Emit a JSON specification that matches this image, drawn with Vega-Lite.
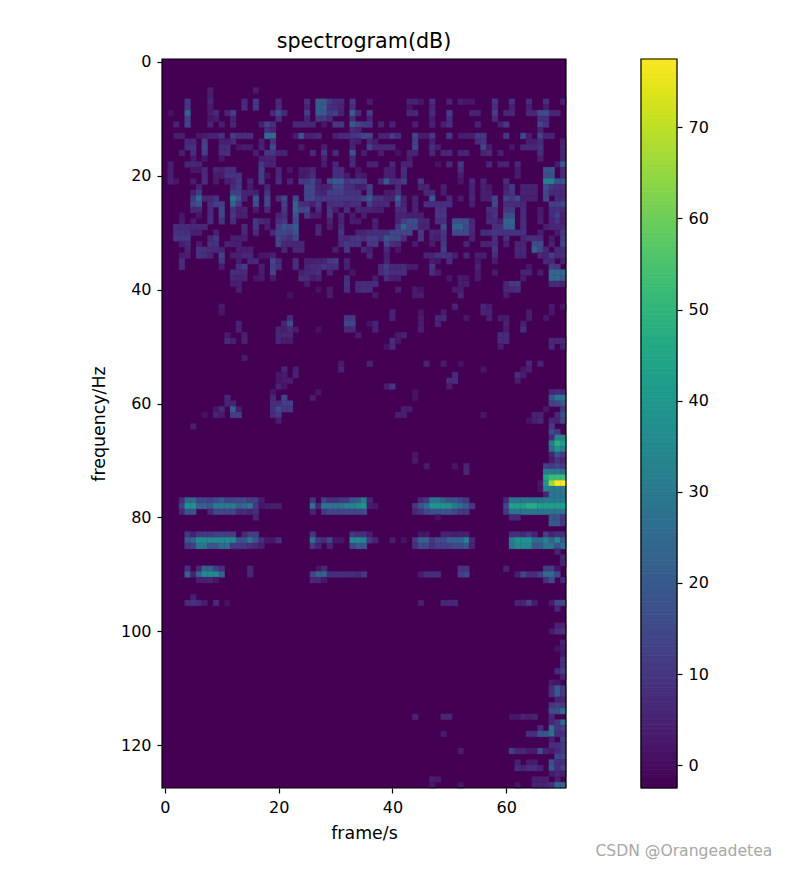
{
  "$schema": "https://vega.github.io/schema/vega-lite/v6.json",
  "description": "Spectrogram heatmap with a colorbar",
  "padding": {"left": 90, "top": 31, "right": 0, "bottom": 0},
  "background": "white",
  "title": {"text": "CSDN @Orangeadetea", "orient": "bottom", "anchor": "end", "offset": 3, "dx": 64, "fontSize": 15.6, "fontWeight": "normal", "font": "DejaVu Sans", "color": "#a8a8a8"},
  "config": {
    "font": "DejaVu Sans",
    "view": {"stroke": null},
    "axis": {"grid": false, "labelFont": "DejaVu Sans", "labelFontSize": 16, "labelPadding": 6, "labelColor": "black", "titleFont": "DejaVu Sans", "titleFontSize": 17.4, "titleFontWeight": "normal", "titleColor": "black", "tickColor": "black", "tickSize": 5, "tickWidth": 1.2, "domain": false}
  },
  "spacing": 73,
  "hconcat": [
    {
      "title": {"text": "spectrogram(dB)", "fontSize": 20.7, "fontWeight": "normal", "font": "DejaVu Sans", "color": "black", "offset": 1},
      "width": 404,
      "height": 729,
      "view": {"fill": "#440154", "stroke": null},
      "layer": [
        {
      "data": {"values": [
{"t":8,"f":5,"v":4},{"t":16,"f":5,"v":3},{"t":8,"f":6,"v":3},
{"t":4,"f":7,"v":10},{"t":8,"f":7,"v":5},{"t":14,"f":7,"v":7},{"t":16,"f":7,"v":10},{"t":20,"f":7,"v":7},{"t":25,"f":7,"v":8},{"t":27,"f":7,"v":20},{"t":28,"f":7,"v":20},{"t":29,"f":7,"v":10},{"t":30,"f":7,"v":7},{"t":31,"f":7,"v":7},{"t":33,"f":7,"v":10},{"t":36,"f":7,"v":3},{"t":43,"f":7,"v":5},{"t":44,"f":7,"v":5},{"t":45,"f":7,"v":2},{"t":47,"f":7,"v":8},{"t":50,"f":7,"v":5},{"t":52,"f":7,"v":4},{"t":53,"f":7,"v":2},{"t":54,"f":7,"v":2},{"t":58,"f":7,"v":10},{"t":61,"f":7,"v":8},{"t":64,"f":7,"v":7},{"t":67,"f":7,"v":8},{"t":70,"f":7,"v":4},
{"t":4,"f":8,"v":10},{"t":8,"f":8,"v":3},{"t":14,"f":8,"v":8},{"t":16,"f":8,"v":10},{"t":20,"f":8,"v":7},{"t":25,"f":8,"v":5},{"t":27,"f":8,"v":20},{"t":28,"f":8,"v":20},{"t":29,"f":8,"v":8},{"t":30,"f":8,"v":7},{"t":31,"f":8,"v":5},{"t":33,"f":8,"v":8},{"t":43,"f":8,"v":2},{"t":47,"f":8,"v":5},{"t":58,"f":8,"v":8},{"t":61,"f":8,"v":4},{"t":64,"f":8,"v":4},{"t":67,"f":8,"v":3},
{"t":1,"f":9,"v":1},{"t":4,"f":9,"v":22},{"t":8,"f":9,"v":3},{"t":9,"f":9,"v":7},{"t":11,"f":9,"v":5},{"t":12,"f":9,"v":12},{"t":19,"f":9,"v":6},{"t":20,"f":9,"v":15},{"t":21,"f":9,"v":7},{"t":25,"f":9,"v":12},{"t":27,"f":9,"v":20},{"t":28,"f":9,"v":20},{"t":29,"f":9,"v":10},{"t":30,"f":9,"v":12},{"t":31,"f":9,"v":5},{"t":33,"f":9,"v":22},{"t":34,"f":9,"v":7},{"t":36,"f":9,"v":12},{"t":43,"f":9,"v":6},{"t":44,"f":9,"v":6},{"t":47,"f":9,"v":8},{"t":50,"f":9,"v":12},{"t":54,"f":9,"v":5},{"t":55,"f":9,"v":5},{"t":58,"f":9,"v":12},{"t":60,"f":9,"v":6},{"t":61,"f":9,"v":6},{"t":64,"f":9,"v":6},{"t":65,"f":9,"v":6},{"t":66,"f":9,"v":16},{"t":67,"f":9,"v":16},{"t":68,"f":9,"v":6},{"t":69,"f":9,"v":6},
{"t":4,"f":10,"v":12},{"t":8,"f":10,"v":2},{"t":9,"f":10,"v":3},{"t":12,"f":10,"v":5},{"t":20,"f":10,"v":8},{"t":25,"f":10,"v":5},{"t":27,"f":10,"v":10},{"t":28,"f":10,"v":10},{"t":29,"f":10,"v":6},{"t":33,"f":10,"v":8},{"t":36,"f":10,"v":5},{"t":47,"f":10,"v":3},{"t":50,"f":10,"v":8},{"t":58,"f":10,"v":7},{"t":66,"f":10,"v":8},{"t":67,"f":10,"v":8},
{"t":2,"f":11,"v":5},{"t":4,"f":11,"v":13},{"t":8,"f":11,"v":5},{"t":10,"f":11,"v":4},{"t":12,"f":11,"v":6},{"t":17,"f":11,"v":4},{"t":18,"f":11,"v":13},{"t":19,"f":11,"v":8},{"t":23,"f":11,"v":6},{"t":24,"f":11,"v":6},{"t":25,"f":11,"v":6},{"t":26,"f":11,"v":6},{"t":28,"f":11,"v":2},{"t":30,"f":11,"v":10},{"t":31,"f":11,"v":10},{"t":33,"f":11,"v":20},{"t":34,"f":11,"v":14},{"t":35,"f":11,"v":10},{"t":36,"f":11,"v":10},{"t":38,"f":11,"v":5},{"t":40,"f":11,"v":5},{"t":44,"f":11,"v":4},{"t":47,"f":11,"v":5},{"t":49,"f":11,"v":4},{"t":50,"f":11,"v":8},{"t":55,"f":11,"v":5},{"t":59,"f":11,"v":4},{"t":60,"f":11,"v":10},{"t":66,"f":11,"v":14},{"t":67,"f":11,"v":9},
{"t":18,"f":12,"v":8},{"t":19,"f":12,"v":5},{"t":33,"f":12,"v":7},{"t":34,"f":12,"v":5},{"t":66,"f":12,"v":5},
{"t":2,"f":13,"v":4},{"t":3,"f":13,"v":4},{"t":6,"f":13,"v":2},{"t":7,"f":13,"v":3},{"t":8,"f":13,"v":5},{"t":9,"f":13,"v":5},{"t":10,"f":13,"v":9},{"t":12,"f":13,"v":12},{"t":13,"f":13,"v":8},{"t":14,"f":13,"v":8},{"t":15,"f":13,"v":8},{"t":18,"f":13,"v":25},{"t":19,"f":13,"v":25},{"t":23,"f":13,"v":3},{"t":24,"f":13,"v":18},{"t":25,"f":13,"v":4},{"t":26,"f":13,"v":5},{"t":27,"f":13,"v":7},{"t":30,"f":13,"v":4},{"t":31,"f":13,"v":7},{"t":32,"f":13,"v":7},{"t":33,"f":13,"v":9},{"t":34,"f":13,"v":10},{"t":35,"f":13,"v":14},{"t":36,"f":13,"v":14},{"t":38,"f":13,"v":5},{"t":39,"f":13,"v":5},{"t":40,"f":13,"v":12},{"t":41,"f":13,"v":7},{"t":44,"f":13,"v":14},{"t":45,"f":13,"v":3},{"t":46,"f":13,"v":3},{"t":47,"f":13,"v":10},{"t":50,"f":13,"v":10},{"t":52,"f":13,"v":3},{"t":53,"f":13,"v":4},{"t":54,"f":13,"v":4},{"t":55,"f":13,"v":10},{"t":56,"f":13,"v":10},{"t":60,"f":13,"v":10},{"t":63,"f":13,"v":15},{"t":64,"f":13,"v":3},{"t":66,"f":13,"v":14},{"t":67,"f":13,"v":5},{"t":68,"f":13,"v":5},
{"t":4,"f":14,"v":6},{"t":5,"f":14,"v":6},{"t":7,"f":14,"v":12},{"t":10,"f":14,"v":4},{"t":11,"f":14,"v":4},{"t":12,"f":14,"v":6},{"t":17,"f":14,"v":4},{"t":19,"f":14,"v":9},{"t":33,"f":14,"v":5},{"t":34,"f":14,"v":3},{"t":36,"f":14,"v":6},{"t":37,"f":14,"v":3},{"t":44,"f":14,"v":12},{"t":47,"f":14,"v":4},{"t":55,"f":14,"v":7},{"t":56,"f":14,"v":9},{"t":64,"f":14,"v":4},{"t":65,"f":14,"v":4},{"t":66,"f":14,"v":7},{"t":70,"f":14,"v":4},
{"t":4,"f":15,"v":8},{"t":5,"f":15,"v":9},{"t":7,"f":15,"v":14},{"t":10,"f":15,"v":7},{"t":11,"f":15,"v":7},{"t":13,"f":15,"v":2},{"t":14,"f":15,"v":3},{"t":15,"f":15,"v":3},{"t":17,"f":15,"v":5},{"t":19,"f":15,"v":15},{"t":24,"f":15,"v":3},{"t":28,"f":15,"v":4},{"t":33,"f":15,"v":5},{"t":36,"f":15,"v":13},{"t":37,"f":15,"v":6},{"t":38,"f":15,"v":6},{"t":39,"f":15,"v":6},{"t":40,"f":15,"v":6},{"t":44,"f":15,"v":14},{"t":47,"f":15,"v":8},{"t":48,"f":15,"v":3},{"t":56,"f":15,"v":14},{"t":57,"f":15,"v":3},{"t":61,"f":15,"v":2},{"t":63,"f":15,"v":6},{"t":64,"f":15,"v":6},{"t":65,"f":15,"v":6},{"t":66,"f":15,"v":9},{"t":70,"f":15,"v":5},
{"t":3,"f":16,"v":4},{"t":5,"f":16,"v":8},{"t":7,"f":16,"v":12},{"t":10,"f":16,"v":8},{"t":11,"f":16,"v":8},{"t":16,"f":16,"v":4},{"t":18,"f":16,"v":10},{"t":19,"f":16,"v":10},{"t":20,"f":16,"v":5},{"t":21,"f":16,"v":5},{"t":26,"f":16,"v":7},{"t":28,"f":16,"v":10},{"t":30,"f":16,"v":7},{"t":33,"f":16,"v":18},{"t":35,"f":16,"v":3},{"t":38,"f":16,"v":3},{"t":41,"f":16,"v":1},{"t":43,"f":16,"v":5},{"t":44,"f":16,"v":5},{"t":47,"f":16,"v":6},{"t":49,"f":16,"v":6},{"t":50,"f":16,"v":6},{"t":52,"f":16,"v":5},{"t":53,"f":16,"v":5},{"t":56,"f":16,"v":5},{"t":57,"f":16,"v":7},{"t":59,"f":16,"v":4},{"t":66,"f":16,"v":8},{"t":70,"f":16,"v":5},
{"t":5,"f":17,"v":3},{"t":7,"f":17,"v":2},{"t":10,"f":17,"v":2},{"t":17,"f":17,"v":4},{"t":18,"f":17,"v":5},{"t":19,"f":17,"v":5},{"t":28,"f":17,"v":5},{"t":33,"f":17,"v":6},{"t":43,"f":17,"v":3},{"t":66,"f":17,"v":4},{"t":70,"f":17,"v":5},
{"t":1,"f":18,"v":4},{"t":4,"f":18,"v":6},{"t":5,"f":18,"v":6},{"t":6,"f":18,"v":5},{"t":17,"f":18,"v":10},{"t":18,"f":18,"v":5},{"t":19,"f":18,"v":5},{"t":28,"f":18,"v":3},{"t":30,"f":18,"v":6},{"t":33,"f":18,"v":7},{"t":36,"f":18,"v":5},{"t":37,"f":18,"v":5},{"t":40,"f":18,"v":6},{"t":42,"f":18,"v":5},{"t":43,"f":18,"v":5},{"t":48,"f":18,"v":1},{"t":50,"f":18,"v":7},{"t":52,"f":18,"v":10},{"t":57,"f":18,"v":6},{"t":59,"f":18,"v":5},{"t":60,"f":18,"v":5},{"t":62,"f":18,"v":6},{"t":69,"f":18,"v":3},{"t":70,"f":18,"v":20},
{"t":1,"f":19,"v":4},{"t":5,"f":19,"v":2},{"t":6,"f":19,"v":2},{"t":7,"f":19,"v":6},{"t":9,"f":19,"v":6},{"t":10,"f":19,"v":4},{"t":11,"f":19,"v":8},{"t":12,"f":19,"v":8},{"t":17,"f":19,"v":12},{"t":20,"f":19,"v":6},{"t":22,"f":19,"v":2},{"t":24,"f":19,"v":3},{"t":25,"f":19,"v":3},{"t":26,"f":19,"v":6},{"t":30,"f":19,"v":8},{"t":31,"f":19,"v":8},{"t":34,"f":19,"v":2},{"t":39,"f":19,"v":4},{"t":40,"f":19,"v":4},{"t":42,"f":19,"v":8},{"t":52,"f":19,"v":8},{"t":62,"f":19,"v":3},{"t":67,"f":19,"v":18},{"t":68,"f":19,"v":18},{"t":70,"f":19,"v":6},
{"t":1,"f":20,"v":4},{"t":7,"f":20,"v":7},{"t":9,"f":20,"v":3},{"t":10,"f":20,"v":3},{"t":11,"f":20,"v":9},{"t":12,"f":20,"v":9},{"t":13,"f":20,"v":9},{"t":17,"f":20,"v":12},{"t":18,"f":20,"v":2},{"t":20,"f":20,"v":6},{"t":24,"f":20,"v":2},{"t":25,"f":20,"v":3},{"t":26,"f":20,"v":8},{"t":30,"f":20,"v":8},{"t":31,"f":20,"v":8},{"t":32,"f":20,"v":3},{"t":34,"f":20,"v":4},{"t":35,"f":20,"v":2},{"t":39,"f":20,"v":4},{"t":40,"f":20,"v":4},{"t":42,"f":20,"v":7},{"t":52,"f":20,"v":4},{"t":62,"f":20,"v":3},{"t":67,"f":20,"v":16},{"t":68,"f":20,"v":16},{"t":70,"f":20,"v":6},
{"t":1,"f":21,"v":5},{"t":2,"f":21,"v":2},{"t":5,"f":21,"v":3},{"t":7,"f":21,"v":8},{"t":9,"f":21,"v":3},{"t":11,"f":21,"v":4},{"t":12,"f":21,"v":5},{"t":13,"f":21,"v":10},{"t":15,"f":21,"v":5},{"t":17,"f":21,"v":12},{"t":20,"f":21,"v":8},{"t":22,"f":21,"v":5},{"t":24,"f":21,"v":10},{"t":25,"f":21,"v":10},{"t":26,"f":21,"v":14},{"t":27,"f":21,"v":5},{"t":29,"f":21,"v":15},{"t":30,"f":21,"v":20},{"t":31,"f":21,"v":20},{"t":32,"f":21,"v":9},{"t":33,"f":21,"v":12},{"t":34,"f":21,"v":12},{"t":35,"f":21,"v":10},{"t":38,"f":21,"v":6},{"t":39,"f":21,"v":20},{"t":40,"f":21,"v":8},{"t":41,"f":21,"v":8},{"t":42,"f":21,"v":12},{"t":45,"f":21,"v":10},{"t":52,"f":21,"v":2},{"t":54,"f":21,"v":6},{"t":56,"f":21,"v":5},{"t":60,"f":21,"v":8},{"t":67,"f":21,"v":32},{"t":68,"f":21,"v":32},{"t":69,"f":21,"v":18},{"t":70,"f":21,"v":18},
{"t":6,"f":22,"v":5},{"t":12,"f":22,"v":6},{"t":13,"f":22,"v":10},{"t":15,"f":22,"v":3},{"t":18,"f":22,"v":5},{"t":25,"f":22,"v":14},{"t":26,"f":22,"v":14},{"t":27,"f":22,"v":5},{"t":28,"f":22,"v":4},{"t":29,"f":22,"v":5},{"t":30,"f":22,"v":14},{"t":31,"f":22,"v":14},{"t":32,"f":22,"v":8},{"t":33,"f":22,"v":8},{"t":34,"f":22,"v":3},{"t":35,"f":22,"v":4},{"t":36,"f":22,"v":12},{"t":41,"f":22,"v":6},{"t":45,"f":22,"v":5},{"t":46,"f":22,"v":5},{"t":49,"f":22,"v":4},{"t":54,"f":22,"v":5},{"t":56,"f":22,"v":4},{"t":57,"f":22,"v":2},{"t":60,"f":22,"v":4},{"t":61,"f":22,"v":10},{"t":63,"f":22,"v":5},{"t":64,"f":22,"v":5},{"t":65,"f":22,"v":5},{"t":67,"f":22,"v":16},{"t":68,"f":22,"v":10},{"t":69,"f":22,"v":8},{"t":70,"f":22,"v":8},
{"t":5,"f":23,"v":4},{"t":6,"f":23,"v":10},{"t":12,"f":23,"v":12},{"t":13,"f":23,"v":12},{"t":14,"f":23,"v":5},{"t":15,"f":23,"v":5},{"t":16,"f":23,"v":4},{"t":18,"f":23,"v":9},{"t":25,"f":23,"v":14},{"t":26,"f":23,"v":14},{"t":27,"f":23,"v":6},{"t":28,"f":23,"v":5},{"t":29,"f":23,"v":12},{"t":30,"f":23,"v":12},{"t":31,"f":23,"v":12},{"t":32,"f":23,"v":9},{"t":33,"f":23,"v":9},{"t":34,"f":23,"v":9},{"t":36,"f":23,"v":12},{"t":39,"f":23,"v":3},{"t":40,"f":23,"v":3},{"t":41,"f":23,"v":8},{"t":46,"f":23,"v":6},{"t":47,"f":23,"v":6},{"t":49,"f":23,"v":3},{"t":54,"f":23,"v":5},{"t":56,"f":23,"v":4},{"t":57,"f":23,"v":4},{"t":60,"f":23,"v":6},{"t":61,"f":23,"v":9},{"t":63,"f":23,"v":5},{"t":64,"f":23,"v":5},{"t":65,"f":23,"v":5},{"t":67,"f":23,"v":14},{"t":68,"f":23,"v":6},{"t":69,"f":23,"v":7},{"t":70,"f":23,"v":6},
{"t":5,"f":24,"v":10},{"t":6,"f":24,"v":25},{"t":7,"f":24,"v":6},{"t":8,"f":24,"v":6},{"t":9,"f":24,"v":9},{"t":12,"f":24,"v":28},{"t":13,"f":24,"v":17},{"t":14,"f":24,"v":5},{"t":16,"f":24,"v":18},{"t":18,"f":24,"v":14},{"t":20,"f":24,"v":7},{"t":21,"f":24,"v":14},{"t":23,"f":24,"v":14},{"t":25,"f":24,"v":14},{"t":26,"f":24,"v":14},{"t":27,"f":24,"v":10},{"t":28,"f":24,"v":10},{"t":29,"f":24,"v":10},{"t":30,"f":24,"v":10},{"t":31,"f":24,"v":10},{"t":32,"f":24,"v":10},{"t":33,"f":24,"v":10},{"t":34,"f":24,"v":10},{"t":35,"f":24,"v":12},{"t":36,"f":24,"v":20},{"t":37,"f":24,"v":9},{"t":38,"f":24,"v":9},{"t":39,"f":24,"v":5},{"t":40,"f":24,"v":5},{"t":41,"f":24,"v":22},{"t":42,"f":24,"v":5},{"t":44,"f":24,"v":5},{"t":47,"f":24,"v":20},{"t":50,"f":24,"v":6},{"t":52,"f":24,"v":3},{"t":54,"f":24,"v":6},{"t":56,"f":24,"v":4},{"t":57,"f":24,"v":4},{"t":58,"f":24,"v":14},{"t":60,"f":24,"v":14},{"t":61,"f":24,"v":10},{"t":62,"f":24,"v":15},{"t":63,"f":24,"v":4},{"t":64,"f":24,"v":4},{"t":65,"f":24,"v":4},{"t":67,"f":24,"v":14},{"t":69,"f":24,"v":7},{"t":70,"f":24,"v":7},
{"t":5,"f":25,"v":14},{"t":6,"f":25,"v":18},{"t":8,"f":25,"v":8},{"t":9,"f":25,"v":12},{"t":10,"f":25,"v":12},{"t":12,"f":25,"v":22},{"t":13,"f":25,"v":10},{"t":16,"f":25,"v":16},{"t":18,"f":25,"v":14},{"t":21,"f":25,"v":12},{"t":23,"f":25,"v":22},{"t":24,"f":25,"v":8},{"t":25,"f":25,"v":7},{"t":26,"f":25,"v":4},{"t":27,"f":25,"v":10},{"t":29,"f":25,"v":8},{"t":30,"f":25,"v":9},{"t":31,"f":25,"v":9},{"t":32,"f":25,"v":6},{"t":33,"f":25,"v":8},{"t":34,"f":25,"v":8},{"t":36,"f":25,"v":12},{"t":37,"f":25,"v":6},{"t":38,"f":25,"v":6},{"t":39,"f":25,"v":6},{"t":41,"f":25,"v":14},{"t":42,"f":25,"v":5},{"t":44,"f":25,"v":5},{"t":46,"f":25,"v":8},{"t":47,"f":25,"v":8},{"t":48,"f":25,"v":8},{"t":49,"f":25,"v":8},{"t":50,"f":25,"v":8},{"t":54,"f":25,"v":4},{"t":58,"f":25,"v":14},{"t":60,"f":25,"v":8},{"t":61,"f":25,"v":8},{"t":62,"f":25,"v":8},{"t":63,"f":25,"v":6},{"t":68,"f":25,"v":12},{"t":69,"f":25,"v":12},{"t":70,"f":25,"v":14},
{"t":5,"f":26,"v":6},{"t":6,"f":26,"v":6},{"t":8,"f":26,"v":7},{"t":10,"f":26,"v":14},{"t":12,"f":26,"v":9},{"t":13,"f":26,"v":4},{"t":14,"f":26,"v":5},{"t":16,"f":26,"v":3},{"t":18,"f":26,"v":6},{"t":21,"f":26,"v":10},{"t":23,"f":26,"v":22},{"t":24,"f":26,"v":14},{"t":25,"f":26,"v":14},{"t":27,"f":26,"v":8},{"t":29,"f":26,"v":10},{"t":30,"f":26,"v":4},{"t":32,"f":26,"v":8},{"t":34,"f":26,"v":6},{"t":35,"f":26,"v":5},{"t":36,"f":26,"v":5},{"t":37,"f":26,"v":4},{"t":38,"f":26,"v":4},{"t":41,"f":26,"v":7},{"t":42,"f":26,"v":7},{"t":44,"f":26,"v":5},{"t":48,"f":26,"v":9},{"t":49,"f":26,"v":9},{"t":57,"f":26,"v":8},{"t":58,"f":26,"v":8},{"t":60,"f":26,"v":10},{"t":61,"f":26,"v":10},{"t":63,"f":26,"v":7},{"t":66,"f":26,"v":3},{"t":68,"f":26,"v":8},{"t":69,"f":26,"v":8},{"t":70,"f":26,"v":7},
{"t":3,"f":27,"v":2},{"t":6,"f":27,"v":2},{"t":8,"f":27,"v":8},{"t":10,"f":27,"v":14},{"t":12,"f":27,"v":10},{"t":13,"f":27,"v":4},{"t":14,"f":27,"v":4},{"t":20,"f":27,"v":5},{"t":21,"f":27,"v":8},{"t":23,"f":27,"v":18},{"t":25,"f":27,"v":10},{"t":26,"f":27,"v":4},{"t":27,"f":27,"v":3},{"t":29,"f":27,"v":10},{"t":31,"f":27,"v":6},{"t":33,"f":27,"v":3},{"t":35,"f":27,"v":3},{"t":41,"f":27,"v":5},{"t":42,"f":27,"v":5},{"t":43,"f":27,"v":4},{"t":44,"f":27,"v":4},{"t":45,"f":27,"v":4},{"t":48,"f":27,"v":10},{"t":49,"f":27,"v":10},{"t":57,"f":27,"v":5},{"t":58,"f":27,"v":9},{"t":60,"f":27,"v":16},{"t":61,"f":27,"v":16},{"t":63,"f":27,"v":7},{"t":66,"f":27,"v":3},{"t":68,"f":27,"v":7},{"t":69,"f":27,"v":12},{"t":70,"f":27,"v":5},
{"t":3,"f":28,"v":3},{"t":5,"f":28,"v":3},{"t":8,"f":28,"v":8},{"t":10,"f":28,"v":9},{"t":12,"f":28,"v":8},{"t":16,"f":28,"v":10},{"t":17,"f":28,"v":6},{"t":18,"f":28,"v":5},{"t":20,"f":28,"v":8},{"t":21,"f":28,"v":10},{"t":23,"f":28,"v":14},{"t":29,"f":28,"v":5},{"t":31,"f":28,"v":5},{"t":33,"f":28,"v":3},{"t":34,"f":28,"v":3},{"t":37,"f":28,"v":5},{"t":41,"f":28,"v":5},{"t":42,"f":28,"v":12},{"t":43,"f":28,"v":16},{"t":44,"f":28,"v":16},{"t":45,"f":28,"v":6},{"t":46,"f":28,"v":6},{"t":48,"f":28,"v":8},{"t":49,"f":28,"v":8},{"t":51,"f":28,"v":16},{"t":52,"f":28,"v":16},{"t":53,"f":28,"v":16},{"t":54,"f":28,"v":6},{"t":57,"f":28,"v":7},{"t":58,"f":28,"v":7},{"t":59,"f":28,"v":3},{"t":60,"f":28,"v":22},{"t":61,"f":28,"v":22},{"t":63,"f":28,"v":8},{"t":66,"f":28,"v":4},{"t":68,"f":28,"v":6},{"t":69,"f":28,"v":9},{"t":70,"f":28,"v":4},
{"t":2,"f":29,"v":8},{"t":3,"f":29,"v":7},{"t":4,"f":29,"v":7},{"t":5,"f":29,"v":6},{"t":6,"f":29,"v":6},{"t":7,"f":29,"v":6},{"t":14,"f":29,"v":7},{"t":16,"f":29,"v":10},{"t":18,"f":29,"v":3},{"t":20,"f":29,"v":12},{"t":21,"f":29,"v":18},{"t":22,"f":29,"v":14},{"t":23,"f":29,"v":20},{"t":27,"f":29,"v":5},{"t":29,"f":29,"v":3},{"t":31,"f":29,"v":7},{"t":37,"f":29,"v":4},{"t":41,"f":29,"v":10},{"t":42,"f":29,"v":22},{"t":43,"f":29,"v":14},{"t":44,"f":29,"v":14},{"t":45,"f":29,"v":5},{"t":46,"f":29,"v":5},{"t":49,"f":29,"v":16},{"t":51,"f":29,"v":22},{"t":52,"f":29,"v":22},{"t":53,"f":29,"v":14},{"t":54,"f":29,"v":7},{"t":58,"f":29,"v":8},{"t":59,"f":29,"v":8},{"t":60,"f":29,"v":20},{"t":61,"f":29,"v":20},{"t":63,"f":29,"v":8},{"t":67,"f":29,"v":4},{"t":68,"f":29,"v":6},{"t":69,"f":29,"v":6},{"t":70,"f":29,"v":6},
{"t":2,"f":30,"v":9},{"t":3,"f":30,"v":9},{"t":4,"f":30,"v":8},{"t":5,"f":30,"v":4},{"t":6,"f":30,"v":4},{"t":9,"f":30,"v":4},{"t":14,"f":30,"v":6},{"t":16,"f":30,"v":7},{"t":19,"f":30,"v":7},{"t":20,"f":30,"v":14},{"t":21,"f":30,"v":14},{"t":22,"f":30,"v":12},{"t":23,"f":30,"v":18},{"t":27,"f":30,"v":6},{"t":31,"f":30,"v":10},{"t":34,"f":30,"v":5},{"t":35,"f":30,"v":5},{"t":36,"f":30,"v":8},{"t":37,"f":30,"v":8},{"t":38,"f":30,"v":8},{"t":39,"f":30,"v":8},{"t":40,"f":30,"v":14},{"t":41,"f":30,"v":14},{"t":42,"f":30,"v":14},{"t":43,"f":30,"v":14},{"t":45,"f":30,"v":10},{"t":47,"f":30,"v":6},{"t":48,"f":30,"v":5},{"t":49,"f":30,"v":10},{"t":51,"f":30,"v":15},{"t":52,"f":30,"v":15},{"t":53,"f":30,"v":15},{"t":54,"f":30,"v":6},{"t":56,"f":30,"v":8},{"t":57,"f":30,"v":8},{"t":58,"f":30,"v":10},{"t":59,"f":30,"v":9},{"t":60,"f":30,"v":9},{"t":61,"f":30,"v":9},{"t":62,"f":30,"v":9},{"t":63,"f":30,"v":9},{"t":66,"f":30,"v":4},{"t":69,"f":30,"v":3},{"t":70,"f":30,"v":10},
{"t":2,"f":31,"v":10},{"t":3,"f":31,"v":10},{"t":4,"f":31,"v":10},{"t":8,"f":31,"v":6},{"t":9,"f":31,"v":10},{"t":12,"f":31,"v":4},{"t":13,"f":31,"v":4},{"t":14,"f":31,"v":4},{"t":20,"f":31,"v":14},{"t":21,"f":31,"v":10},{"t":22,"f":31,"v":8},{"t":23,"f":31,"v":14},{"t":31,"f":31,"v":8},{"t":32,"f":31,"v":6},{"t":33,"f":31,"v":9},{"t":34,"f":31,"v":10},{"t":35,"f":31,"v":8},{"t":36,"f":31,"v":12},{"t":37,"f":31,"v":12},{"t":38,"f":31,"v":8},{"t":39,"f":31,"v":18},{"t":40,"f":31,"v":15},{"t":41,"f":31,"v":15},{"t":42,"f":31,"v":8},{"t":45,"f":31,"v":10},{"t":47,"f":31,"v":5},{"t":48,"f":31,"v":3},{"t":49,"f":31,"v":9},{"t":54,"f":31,"v":5},{"t":58,"f":31,"v":8},{"t":60,"f":31,"v":8},{"t":63,"f":31,"v":5},{"t":64,"f":31,"v":8},{"t":65,"f":31,"v":8},{"t":66,"f":31,"v":7},{"t":68,"f":31,"v":3},{"t":70,"f":31,"v":12},
{"t":3,"f":32,"v":4},{"t":4,"f":32,"v":6},{"t":6,"f":32,"v":3},{"t":8,"f":32,"v":9},{"t":9,"f":32,"v":9},{"t":11,"f":32,"v":5},{"t":12,"f":32,"v":4},{"t":13,"f":32,"v":4},{"t":20,"f":32,"v":14},{"t":21,"f":32,"v":6},{"t":22,"f":32,"v":6},{"t":23,"f":32,"v":6},{"t":24,"f":32,"v":6},{"t":31,"f":32,"v":7},{"t":32,"f":32,"v":10},{"t":33,"f":32,"v":9},{"t":34,"f":32,"v":9},{"t":36,"f":32,"v":10},{"t":37,"f":32,"v":10},{"t":39,"f":32,"v":14},{"t":40,"f":32,"v":8},{"t":41,"f":32,"v":6},{"t":44,"f":32,"v":3},{"t":47,"f":32,"v":3},{"t":49,"f":32,"v":10},{"t":53,"f":32,"v":5},{"t":56,"f":32,"v":5},{"t":57,"f":32,"v":5},{"t":58,"f":32,"v":8},{"t":60,"f":32,"v":4},{"t":62,"f":32,"v":5},{"t":63,"f":32,"v":5},{"t":65,"f":32,"v":16},{"t":66,"f":32,"v":16},{"t":68,"f":32,"v":5},{"t":70,"f":32,"v":14},
{"t":4,"f":33,"v":5},{"t":6,"f":33,"v":9},{"t":7,"f":33,"v":9},{"t":8,"f":33,"v":7},{"t":9,"f":33,"v":7},{"t":10,"f":33,"v":5},{"t":13,"f":33,"v":4},{"t":14,"f":33,"v":4},{"t":15,"f":33,"v":4},{"t":21,"f":33,"v":6},{"t":23,"f":33,"v":6},{"t":24,"f":33,"v":6},{"t":30,"f":33,"v":4},{"t":32,"f":33,"v":10},{"t":35,"f":33,"v":6},{"t":36,"f":33,"v":3},{"t":39,"f":33,"v":6},{"t":41,"f":33,"v":2},{"t":49,"f":33,"v":12},{"t":58,"f":33,"v":10},{"t":62,"f":33,"v":6},{"t":63,"f":33,"v":6},{"t":65,"f":33,"v":22},{"t":66,"f":33,"v":14},{"t":67,"f":33,"v":6},{"t":69,"f":33,"v":7},{"t":70,"f":33,"v":7},
{"t":3,"f":34,"v":3},{"t":4,"f":34,"v":4},{"t":6,"f":34,"v":9},{"t":7,"f":34,"v":8},{"t":8,"f":34,"v":5},{"t":10,"f":34,"v":14},{"t":12,"f":34,"v":4},{"t":13,"f":34,"v":4},{"t":14,"f":34,"v":6},{"t":15,"f":34,"v":6},{"t":17,"f":34,"v":2},{"t":18,"f":34,"v":2},{"t":19,"f":34,"v":4},{"t":36,"f":34,"v":6},{"t":39,"f":34,"v":4},{"t":46,"f":34,"v":5},{"t":47,"f":34,"v":5},{"t":48,"f":34,"v":9},{"t":49,"f":34,"v":9},{"t":50,"f":34,"v":9},{"t":51,"f":34,"v":4},{"t":53,"f":34,"v":6},{"t":55,"f":34,"v":4},{"t":56,"f":34,"v":4},{"t":58,"f":34,"v":8},{"t":62,"f":34,"v":5},{"t":63,"f":34,"v":5},{"t":66,"f":34,"v":6},{"t":67,"f":34,"v":5},{"t":68,"f":34,"v":12},{"t":69,"f":34,"v":7},{"t":70,"f":34,"v":8},
{"t":3,"f":35,"v":8},{"t":10,"f":35,"v":10},{"t":13,"f":35,"v":3},{"t":15,"f":35,"v":6},{"t":16,"f":35,"v":6},{"t":19,"f":35,"v":14},{"t":20,"f":35,"v":7},{"t":23,"f":35,"v":8},{"t":25,"f":35,"v":4},{"t":26,"f":35,"v":4},{"t":27,"f":35,"v":5},{"t":28,"f":35,"v":5},{"t":29,"f":35,"v":10},{"t":30,"f":35,"v":12},{"t":32,"f":35,"v":5},{"t":39,"f":35,"v":5},{"t":47,"f":35,"v":3},{"t":48,"f":35,"v":2},{"t":50,"f":35,"v":8},{"t":55,"f":35,"v":2},{"t":58,"f":35,"v":3},{"t":67,"f":35,"v":6},{"t":68,"f":35,"v":6},{"t":70,"f":35,"v":4},
{"t":3,"f":36,"v":7},{"t":10,"f":36,"v":3},{"t":13,"f":36,"v":8},{"t":14,"f":36,"v":12},{"t":17,"f":36,"v":4},{"t":19,"f":36,"v":12},{"t":20,"f":36,"v":8},{"t":23,"f":36,"v":8},{"t":25,"f":36,"v":5},{"t":26,"f":36,"v":7},{"t":27,"f":36,"v":7},{"t":28,"f":36,"v":9},{"t":29,"f":36,"v":8},{"t":30,"f":36,"v":8},{"t":32,"f":36,"v":4},{"t":38,"f":36,"v":6},{"t":39,"f":36,"v":12},{"t":40,"f":36,"v":6},{"t":41,"f":36,"v":6},{"t":42,"f":36,"v":7},{"t":43,"f":36,"v":3},{"t":44,"f":36,"v":3},{"t":47,"f":36,"v":10},{"t":55,"f":36,"v":5},{"t":64,"f":36,"v":2},{"t":68,"f":36,"v":12},{"t":69,"f":36,"v":10},
{"t":12,"f":37,"v":8},{"t":13,"f":37,"v":7},{"t":14,"f":37,"v":7},{"t":17,"f":37,"v":3},{"t":19,"f":37,"v":14},{"t":24,"f":37,"v":4},{"t":25,"f":37,"v":6},{"t":26,"f":37,"v":6},{"t":27,"f":37,"v":8},{"t":29,"f":37,"v":5},{"t":33,"f":37,"v":2},{"t":38,"f":37,"v":7},{"t":39,"f":37,"v":10},{"t":40,"f":37,"v":8},{"t":41,"f":37,"v":8},{"t":42,"f":37,"v":8},{"t":47,"f":37,"v":8},{"t":48,"f":37,"v":3},{"t":55,"f":37,"v":3},{"t":58,"f":37,"v":3},{"t":63,"f":37,"v":5},{"t":64,"f":37,"v":5},{"t":66,"f":37,"v":3},{"t":68,"f":37,"v":24},{"t":69,"f":37,"v":24},{"t":70,"f":37,"v":24},
{"t":12,"f":38,"v":6},{"t":13,"f":38,"v":5},{"t":14,"f":38,"v":5},{"t":16,"f":38,"v":2},{"t":17,"f":38,"v":3},{"t":19,"f":38,"v":3},{"t":24,"f":38,"v":8},{"t":25,"f":38,"v":8},{"t":26,"f":38,"v":3},{"t":27,"f":38,"v":5},{"t":32,"f":38,"v":8},{"t":37,"f":38,"v":3},{"t":39,"f":38,"v":8},{"t":40,"f":38,"v":4},{"t":41,"f":38,"v":4},{"t":50,"f":38,"v":2},{"t":52,"f":38,"v":3},{"t":53,"f":38,"v":2},{"t":55,"f":38,"v":3},{"t":63,"f":38,"v":3},{"t":68,"f":38,"v":24},{"t":69,"f":38,"v":24},{"t":70,"f":38,"v":20},
{"t":12,"f":39,"v":3},{"t":13,"f":39,"v":4},{"t":25,"f":39,"v":3},{"t":32,"f":39,"v":9},{"t":34,"f":39,"v":6},{"t":35,"f":39,"v":7},{"t":36,"f":39,"v":7},{"t":37,"f":39,"v":8},{"t":52,"f":39,"v":3},{"t":53,"f":39,"v":3},{"t":60,"f":39,"v":5},{"t":61,"f":39,"v":10},{"t":62,"f":39,"v":10},{"t":68,"f":39,"v":7},{"t":69,"f":39,"v":7},{"t":70,"f":39,"v":5},
{"t":13,"f":40,"v":4},{"t":27,"f":40,"v":1},{"t":29,"f":40,"v":3},{"t":32,"f":40,"v":8},{"t":34,"f":40,"v":7},{"t":35,"f":40,"v":8},{"t":36,"f":40,"v":8},{"t":41,"f":40,"v":4},{"t":44,"f":40,"v":3},{"t":45,"f":40,"v":1},{"t":51,"f":40,"v":3},{"t":52,"f":40,"v":3},{"t":60,"f":40,"v":6},{"t":61,"f":40,"v":6},{"t":62,"f":40,"v":8},
{"t":22,"f":41,"v":1},{"t":29,"f":41,"v":3},{"t":37,"f":41,"v":3},{"t":44,"f":41,"v":3},{"t":45,"f":41,"v":3},{"t":52,"f":41,"v":6},{"t":60,"f":41,"v":3},
{"t":10,"f":43,"v":3},{"t":51,"f":43,"v":5},{"t":56,"f":43,"v":6},{"t":57,"f":43,"v":3},{"t":68,"f":43,"v":3},{"t":70,"f":43,"v":2},
{"t":10,"f":44,"v":2},{"t":40,"f":44,"v":5},{"t":45,"f":44,"v":2},{"t":49,"f":44,"v":3},{"t":56,"f":44,"v":5},{"t":57,"f":44,"v":5},{"t":64,"f":44,"v":3},{"t":68,"f":44,"v":2},
{"t":22,"f":45,"v":7},{"t":32,"f":45,"v":10},{"t":33,"f":45,"v":10},{"t":40,"f":45,"v":5},{"t":45,"f":45,"v":3},{"t":48,"f":45,"v":6},{"t":49,"f":45,"v":6},{"t":53,"f":45,"v":2},{"t":57,"f":45,"v":4},{"t":59,"f":45,"v":3},{"t":60,"f":45,"v":3},{"t":64,"f":45,"v":3},{"t":67,"f":45,"v":2},
{"t":13,"f":46,"v":5},{"t":21,"f":46,"v":5},{"t":22,"f":46,"v":15},{"t":32,"f":46,"v":14},{"t":33,"f":46,"v":14},{"t":36,"f":46,"v":1},{"t":37,"f":46,"v":5},{"t":45,"f":46,"v":3},{"t":48,"f":46,"v":5},{"t":60,"f":46,"v":5},{"t":63,"f":46,"v":4},
{"t":13,"f":47,"v":5},{"t":20,"f":47,"v":5},{"t":21,"f":47,"v":4},{"t":22,"f":47,"v":7},{"t":23,"f":47,"v":3},{"t":27,"f":47,"v":1},{"t":32,"f":47,"v":6},{"t":33,"f":47,"v":6},{"t":37,"f":47,"v":5},{"t":45,"f":47,"v":4},{"t":60,"f":47,"v":3},{"t":63,"f":47,"v":8},
{"t":11,"f":48,"v":3},{"t":14,"f":48,"v":4},{"t":20,"f":48,"v":6},{"t":21,"f":48,"v":6},{"t":22,"f":48,"v":6},{"t":34,"f":48,"v":3},{"t":41,"f":48,"v":3},{"t":42,"f":48,"v":5},{"t":59,"f":48,"v":7},{"t":60,"f":48,"v":7},
{"t":11,"f":49,"v":7},{"t":12,"f":49,"v":4},{"t":14,"f":49,"v":5},{"t":20,"f":49,"v":6},{"t":21,"f":49,"v":3},{"t":22,"f":49,"v":3},{"t":40,"f":49,"v":8},{"t":41,"f":49,"v":2},{"t":59,"f":49,"v":7},{"t":60,"f":49,"v":7},{"t":68,"f":49,"v":6},{"t":69,"f":49,"v":6},{"t":70,"f":49,"v":6},
{"t":39,"f":50,"v":1},{"t":40,"f":50,"v":7},{"t":59,"f":50,"v":3},{"t":68,"f":50,"v":6},{"t":70,"f":50,"v":4},
{"t":14,"f":52,"v":3},
{"t":31,"f":53,"v":3},{"t":36,"f":53,"v":5},{"t":46,"f":53,"v":5},{"t":49,"f":53,"v":3},{"t":52,"f":53,"v":1},{"t":64,"f":53,"v":6},{"t":66,"f":53,"v":5},
{"t":21,"f":54,"v":6},{"t":23,"f":54,"v":4},{"t":31,"f":54,"v":5},{"t":56,"f":54,"v":2},{"t":63,"f":54,"v":2},{"t":64,"f":54,"v":4},
{"t":20,"f":55,"v":2},{"t":21,"f":55,"v":3},{"t":23,"f":55,"v":5},{"t":51,"f":55,"v":7},{"t":62,"f":55,"v":8},{"t":63,"f":55,"v":4},
{"t":20,"f":56,"v":2},{"t":21,"f":56,"v":3},{"t":22,"f":56,"v":3},{"t":50,"f":56,"v":8},{"t":51,"f":56,"v":8},{"t":62,"f":56,"v":3},
{"t":20,"f":57,"v":5},{"t":21,"f":57,"v":2},{"t":39,"f":57,"v":3},{"t":40,"f":57,"v":10},{"t":50,"f":57,"v":3},
{"t":19,"f":58,"v":2},{"t":27,"f":58,"v":2},{"t":44,"f":58,"v":1},{"t":68,"f":58,"v":6},{"t":69,"f":58,"v":8},{"t":70,"f":58,"v":6},
{"t":11,"f":59,"v":6},{"t":19,"f":59,"v":6},{"t":21,"f":59,"v":14},{"t":26,"f":59,"v":3},{"t":44,"f":59,"v":1},{"t":68,"f":59,"v":18},{"t":69,"f":59,"v":28},{"t":70,"f":59,"v":28},
{"t":11,"f":60,"v":5},{"t":12,"f":60,"v":5},{"t":19,"f":60,"v":8},{"t":20,"f":60,"v":8},{"t":21,"f":60,"v":12},{"t":22,"f":60,"v":12},{"t":68,"f":60,"v":12},{"t":69,"f":60,"v":14},{"t":70,"f":60,"v":20},
{"t":9,"f":61,"v":2},{"t":10,"f":61,"v":7},{"t":12,"f":61,"v":22},{"t":13,"f":61,"v":3},{"t":19,"f":61,"v":8},{"t":20,"f":61,"v":16},{"t":21,"f":61,"v":10},{"t":22,"f":61,"v":10},{"t":42,"f":61,"v":4},{"t":43,"f":61,"v":3},{"t":67,"f":61,"v":2},{"t":70,"f":61,"v":10},
{"t":7,"f":62,"v":1},{"t":9,"f":62,"v":5},{"t":10,"f":62,"v":3},{"t":12,"f":62,"v":12},{"t":13,"f":62,"v":12},{"t":19,"f":62,"v":7},{"t":20,"f":62,"v":10},{"t":41,"f":62,"v":4},{"t":42,"f":62,"v":4},{"t":56,"f":62,"v":2},{"t":65,"f":62,"v":5},{"t":66,"f":62,"v":5},{"t":69,"f":62,"v":6},{"t":70,"f":62,"v":16},
{"t":20,"f":63,"v":3},{"t":64,"f":63,"v":1},{"t":65,"f":63,"v":4},{"t":66,"f":63,"v":6},{"t":68,"f":63,"v":6},{"t":69,"f":63,"v":5},{"t":70,"f":63,"v":14},
{"t":5,"f":64,"v":4},{"t":68,"f":64,"v":10},
{"t":68,"f":65,"v":16},{"t":69,"f":65,"v":10},
{"t":68,"f":66,"v":7},{"t":69,"f":66,"v":32},{"t":70,"f":66,"v":32},
{"t":68,"f":67,"v":30},{"t":69,"f":67,"v":48},{"t":70,"f":67,"v":42},
{"t":68,"f":68,"v":25},{"t":69,"f":68,"v":38},{"t":70,"f":68,"v":32},
{"t":44,"f":69,"v":2},{"t":68,"f":69,"v":5},{"t":69,"f":69,"v":18},{"t":70,"f":69,"v":10},
{"t":44,"f":70,"v":3},{"t":68,"f":70,"v":3},{"t":69,"f":70,"v":9},{"t":70,"f":70,"v":5},
{"t":46,"f":71,"v":3},{"t":51,"f":71,"v":2},{"t":53,"f":71,"v":5},{"t":67,"f":71,"v":12},{"t":68,"f":71,"v":10},{"t":69,"f":71,"v":14},{"t":70,"f":71,"v":10},
{"t":53,"f":72,"v":6},{"t":67,"f":72,"v":30},{"t":68,"f":72,"v":30},{"t":69,"f":72,"v":30},{"t":70,"f":72,"v":25},
{"t":67,"f":73,"v":45},{"t":68,"f":73,"v":52},{"t":69,"f":73,"v":52},{"t":70,"f":73,"v":52},
{"t":66,"f":74,"v":2},{"t":67,"f":74,"v":40},{"t":68,"f":74,"v":65},{"t":69,"f":74,"v":77},{"t":70,"f":74,"v":77},
{"t":66,"f":75,"v":1},{"t":67,"f":75,"v":32},{"t":68,"f":75,"v":30},{"t":69,"f":75,"v":30},{"t":70,"f":75,"v":30},
{"t":67,"f":76,"v":5},{"t":68,"f":76,"v":28},{"t":69,"f":76,"v":28},{"t":70,"f":76,"v":28},
{"t":3,"f":77,"v":7},{"t":4,"f":77,"v":24},{"t":5,"f":77,"v":24},{"t":6,"f":77,"v":14},{"t":7,"f":77,"v":14},{"t":8,"f":77,"v":12},{"t":9,"f":77,"v":15},{"t":10,"f":77,"v":20},{"t":11,"f":77,"v":14},{"t":12,"f":77,"v":14},{"t":13,"f":77,"v":15},{"t":14,"f":77,"v":15},{"t":15,"f":77,"v":12},{"t":16,"f":77,"v":12},{"t":17,"f":77,"v":3},{"t":26,"f":77,"v":9},{"t":28,"f":77,"v":12},{"t":29,"f":77,"v":8},{"t":30,"f":77,"v":8},{"t":31,"f":77,"v":10},{"t":32,"f":77,"v":10},{"t":33,"f":77,"v":18},{"t":34,"f":77,"v":20},{"t":35,"f":77,"v":30},{"t":36,"f":77,"v":5},{"t":45,"f":77,"v":6},{"t":46,"f":77,"v":10},{"t":47,"f":77,"v":28},{"t":48,"f":77,"v":28},{"t":49,"f":77,"v":22},{"t":50,"f":77,"v":18},{"t":51,"f":77,"v":18},{"t":52,"f":77,"v":14},{"t":53,"f":77,"v":10},{"t":60,"f":77,"v":6},{"t":61,"f":77,"v":28},{"t":62,"f":77,"v":28},{"t":63,"f":77,"v":28},{"t":64,"f":77,"v":28},{"t":65,"f":77,"v":28},{"t":66,"f":77,"v":28},{"t":67,"f":77,"v":30},{"t":68,"f":77,"v":30},{"t":69,"f":77,"v":30},{"t":70,"f":77,"v":30},
{"t":3,"f":78,"v":12},{"t":4,"f":78,"v":38},{"t":5,"f":78,"v":38},{"t":6,"f":78,"v":22},{"t":7,"f":78,"v":22},{"t":8,"f":78,"v":20},{"t":9,"f":78,"v":30},{"t":10,"f":78,"v":30},{"t":11,"f":78,"v":30},{"t":12,"f":78,"v":30},{"t":13,"f":78,"v":22},{"t":14,"f":78,"v":24},{"t":15,"f":78,"v":30},{"t":16,"f":78,"v":10},{"t":17,"f":78,"v":2},{"t":18,"f":78,"v":3},{"t":19,"f":78,"v":4},{"t":20,"f":78,"v":4},{"t":26,"f":78,"v":28},{"t":27,"f":78,"v":6},{"t":28,"f":78,"v":28},{"t":29,"f":78,"v":28},{"t":30,"f":78,"v":28},{"t":31,"f":78,"v":28},{"t":32,"f":78,"v":32},{"t":33,"f":78,"v":32},{"t":34,"f":78,"v":36},{"t":35,"f":78,"v":38},{"t":36,"f":78,"v":4},{"t":37,"f":78,"v":2},{"t":44,"f":78,"v":10},{"t":45,"f":78,"v":18},{"t":46,"f":78,"v":25},{"t":47,"f":78,"v":38},{"t":48,"f":78,"v":38},{"t":49,"f":78,"v":38},{"t":50,"f":78,"v":38},{"t":51,"f":78,"v":30},{"t":52,"f":78,"v":25},{"t":53,"f":78,"v":20},{"t":54,"f":78,"v":10},{"t":60,"f":78,"v":14},{"t":61,"f":78,"v":42},{"t":62,"f":78,"v":42},{"t":63,"f":78,"v":42},{"t":64,"f":78,"v":47},{"t":65,"f":78,"v":47},{"t":66,"f":78,"v":42},{"t":67,"f":78,"v":42},{"t":68,"f":78,"v":42},{"t":69,"f":78,"v":42},{"t":70,"f":78,"v":42},
{"t":3,"f":79,"v":6},{"t":4,"f":79,"v":18},{"t":5,"f":79,"v":18},{"t":8,"f":79,"v":6},{"t":9,"f":79,"v":14},{"t":10,"f":79,"v":14},{"t":11,"f":79,"v":14},{"t":12,"f":79,"v":14},{"t":13,"f":79,"v":7},{"t":14,"f":79,"v":7},{"t":15,"f":79,"v":5},{"t":16,"f":79,"v":8},{"t":26,"f":79,"v":5},{"t":28,"f":79,"v":10},{"t":29,"f":79,"v":14},{"t":30,"f":79,"v":14},{"t":31,"f":79,"v":14},{"t":32,"f":79,"v":14},{"t":33,"f":79,"v":14},{"t":34,"f":79,"v":14},{"t":35,"f":79,"v":15},{"t":44,"f":79,"v":6},{"t":45,"f":79,"v":9},{"t":46,"f":79,"v":14},{"t":47,"f":79,"v":18},{"t":48,"f":79,"v":18},{"t":49,"f":79,"v":18},{"t":50,"f":79,"v":18},{"t":51,"f":79,"v":14},{"t":52,"f":79,"v":10},{"t":53,"f":79,"v":10},{"t":60,"f":79,"v":10},{"t":61,"f":79,"v":28},{"t":62,"f":79,"v":28},{"t":63,"f":79,"v":28},{"t":64,"f":79,"v":28},{"t":65,"f":79,"v":28},{"t":66,"f":79,"v":28},{"t":67,"f":79,"v":28},{"t":68,"f":79,"v":28},{"t":69,"f":79,"v":28},{"t":70,"f":79,"v":28},
{"t":16,"f":80,"v":5},{"t":48,"f":80,"v":1},{"t":61,"f":80,"v":6},{"t":62,"f":80,"v":6},{"t":68,"f":80,"v":18},{"t":69,"f":80,"v":18},{"t":70,"f":80,"v":10},
{"t":68,"f":81,"v":20},{"t":69,"f":81,"v":20},{"t":70,"f":81,"v":10},
{"t":4,"f":83,"v":10},{"t":5,"f":83,"v":4},{"t":6,"f":83,"v":10},{"t":7,"f":83,"v":10},{"t":8,"f":83,"v":10},{"t":9,"f":83,"v":12},{"t":10,"f":83,"v":12},{"t":11,"f":83,"v":12},{"t":12,"f":83,"v":12},{"t":14,"f":83,"v":6},{"t":15,"f":83,"v":12},{"t":16,"f":83,"v":12},{"t":26,"f":83,"v":10},{"t":33,"f":83,"v":10},{"t":34,"f":83,"v":8},{"t":35,"f":83,"v":8},{"t":36,"f":83,"v":3},{"t":45,"f":83,"v":2},{"t":46,"f":83,"v":2},{"t":49,"f":83,"v":5},{"t":50,"f":83,"v":5},{"t":51,"f":83,"v":4},{"t":52,"f":83,"v":4},{"t":53,"f":83,"v":4},{"t":61,"f":83,"v":8},{"t":62,"f":83,"v":8},{"t":63,"f":83,"v":6},{"t":64,"f":83,"v":10},{"t":65,"f":83,"v":5},{"t":67,"f":83,"v":12},{"t":68,"f":83,"v":5},{"t":69,"f":83,"v":8},{"t":70,"f":83,"v":8},
{"t":4,"f":84,"v":20},{"t":5,"f":84,"v":22},{"t":6,"f":84,"v":35},{"t":7,"f":84,"v":35},{"t":8,"f":84,"v":35},{"t":9,"f":84,"v":35},{"t":10,"f":84,"v":35},{"t":11,"f":84,"v":35},{"t":12,"f":84,"v":35},{"t":13,"f":84,"v":18},{"t":14,"f":84,"v":18},{"t":15,"f":84,"v":28},{"t":16,"f":84,"v":18},{"t":17,"f":84,"v":8},{"t":18,"f":84,"v":2},{"t":19,"f":84,"v":2},{"t":20,"f":84,"v":8},{"t":26,"f":84,"v":28},{"t":27,"f":84,"v":10},{"t":28,"f":84,"v":7},{"t":29,"f":84,"v":14},{"t":30,"f":84,"v":2},{"t":31,"f":84,"v":2},{"t":33,"f":84,"v":35},{"t":34,"f":84,"v":35},{"t":35,"f":84,"v":32},{"t":36,"f":84,"v":10},{"t":37,"f":84,"v":5},{"t":40,"f":84,"v":3},{"t":42,"f":84,"v":1},{"t":44,"f":84,"v":10},{"t":45,"f":84,"v":22},{"t":46,"f":84,"v":22},{"t":47,"f":84,"v":10},{"t":48,"f":84,"v":15},{"t":49,"f":84,"v":15},{"t":50,"f":84,"v":22},{"t":51,"f":84,"v":22},{"t":52,"f":84,"v":22},{"t":53,"f":84,"v":32},{"t":54,"f":84,"v":6},{"t":61,"f":84,"v":30},{"t":62,"f":84,"v":38},{"t":63,"f":84,"v":38},{"t":64,"f":84,"v":38},{"t":65,"f":84,"v":25},{"t":66,"f":84,"v":25},{"t":67,"f":84,"v":32},{"t":68,"f":84,"v":22},{"t":69,"f":84,"v":35},{"t":70,"f":84,"v":20},
{"t":4,"f":85,"v":10},{"t":5,"f":85,"v":12},{"t":6,"f":85,"v":28},{"t":7,"f":85,"v":28},{"t":8,"f":85,"v":18},{"t":9,"f":85,"v":18},{"t":10,"f":85,"v":25},{"t":11,"f":85,"v":25},{"t":12,"f":85,"v":10},{"t":13,"f":85,"v":10},{"t":14,"f":85,"v":10},{"t":15,"f":85,"v":8},{"t":16,"f":85,"v":6},{"t":17,"f":85,"v":4},{"t":26,"f":85,"v":10},{"t":27,"f":85,"v":5},{"t":29,"f":85,"v":5},{"t":33,"f":85,"v":14},{"t":34,"f":85,"v":20},{"t":35,"f":85,"v":18},{"t":44,"f":85,"v":8},{"t":45,"f":85,"v":14},{"t":46,"f":85,"v":14},{"t":47,"f":85,"v":9},{"t":48,"f":85,"v":12},{"t":49,"f":85,"v":12},{"t":50,"f":85,"v":12},{"t":51,"f":85,"v":15},{"t":52,"f":85,"v":15},{"t":53,"f":85,"v":18},{"t":54,"f":85,"v":5},{"t":61,"f":85,"v":28},{"t":62,"f":85,"v":35},{"t":63,"f":85,"v":35},{"t":64,"f":85,"v":35},{"t":65,"f":85,"v":20},{"t":66,"f":85,"v":20},{"t":67,"f":85,"v":28},{"t":68,"f":85,"v":28},{"t":69,"f":85,"v":18},{"t":70,"f":85,"v":26},
{"t":69,"f":86,"v":5},{"t":70,"f":87,"v":5},{"t":70,"f":88,"v":5},
{"t":4,"f":89,"v":8},{"t":6,"f":89,"v":6},{"t":7,"f":89,"v":22},{"t":8,"f":89,"v":22},{"t":9,"f":89,"v":12},{"t":10,"f":89,"v":8},{"t":15,"f":89,"v":6},{"t":27,"f":89,"v":2},{"t":28,"f":89,"v":6},{"t":52,"f":89,"v":9},{"t":53,"f":89,"v":9},{"t":60,"f":89,"v":5},{"t":67,"f":89,"v":12},{"t":68,"f":89,"v":12},{"t":69,"f":89,"v":2},
{"t":4,"f":90,"v":22},{"t":5,"f":90,"v":5},{"t":6,"f":90,"v":22},{"t":7,"f":90,"v":35},{"t":8,"f":90,"v":35},{"t":9,"f":90,"v":35},{"t":10,"f":90,"v":22},{"t":15,"f":90,"v":6},{"t":26,"f":90,"v":14},{"t":27,"f":90,"v":22},{"t":28,"f":90,"v":22},{"t":29,"f":90,"v":8},{"t":30,"f":90,"v":8},{"t":31,"f":90,"v":8},{"t":32,"f":90,"v":8},{"t":33,"f":90,"v":8},{"t":34,"f":90,"v":6},{"t":35,"f":90,"v":10},{"t":45,"f":90,"v":3},{"t":46,"f":90,"v":8},{"t":47,"f":90,"v":8},{"t":48,"f":90,"v":8},{"t":52,"f":90,"v":12},{"t":53,"f":90,"v":14},{"t":62,"f":90,"v":4},{"t":63,"f":90,"v":14},{"t":64,"f":90,"v":8},{"t":65,"f":90,"v":8},{"t":66,"f":90,"v":12},{"t":67,"f":90,"v":25},{"t":68,"f":90,"v":25},{"t":69,"f":90,"v":14},
{"t":6,"f":91,"v":4},{"t":7,"f":91,"v":4},{"t":8,"f":91,"v":5},{"t":9,"f":91,"v":2},{"t":26,"f":91,"v":6},{"t":27,"f":91,"v":6},{"t":28,"f":91,"v":2},{"t":67,"f":91,"v":8},{"t":68,"f":91,"v":15},{"t":70,"f":91,"v":6},
{"t":5,"f":94,"v":4},
{"t":4,"f":95,"v":7},{"t":5,"f":95,"v":9},{"t":6,"f":95,"v":7},{"t":7,"f":95,"v":3},{"t":9,"f":95,"v":7},{"t":11,"f":95,"v":1},{"t":45,"f":95,"v":4},{"t":49,"f":95,"v":6},{"t":50,"f":95,"v":6},{"t":51,"f":95,"v":6},{"t":62,"f":95,"v":5},{"t":63,"f":95,"v":5},{"t":64,"f":95,"v":12},{"t":65,"f":95,"v":3},{"t":68,"f":95,"v":3},{"t":69,"f":95,"v":14},{"t":70,"f":95,"v":14},
{"t":69,"f":96,"v":6},
{"t":69,"f":99,"v":5},{"t":70,"f":99,"v":5},
{"t":68,"f":100,"v":3},{"t":69,"f":100,"v":8},{"t":70,"f":100,"v":9},
{"t":70,"f":102,"v":5},{"t":69,"f":103,"v":1},{"t":70,"f":103,"v":3},{"t":70,"f":104,"v":2},{"t":70,"f":105,"v":8},{"t":70,"f":106,"v":8},{"t":69,"f":107,"v":7},{"t":70,"f":107,"v":12},{"t":70,"f":108,"v":5},{"t":68,"f":109,"v":3},{"t":69,"f":109,"v":2},
{"t":68,"f":110,"v":8},{"t":69,"f":110,"v":20},{"t":70,"f":110,"v":10},
{"t":68,"f":111,"v":8},{"t":69,"f":111,"v":20},{"t":70,"f":111,"v":10},
{"t":69,"f":112,"v":5},{"t":70,"f":112,"v":5},
{"t":68,"f":113,"v":10},{"t":69,"f":113,"v":12},{"t":70,"f":113,"v":10},
{"t":68,"f":114,"v":16},{"t":69,"f":114,"v":16},{"t":70,"f":114,"v":25},
{"t":44,"f":115,"v":5},{"t":49,"f":115,"v":6},{"t":50,"f":115,"v":6},{"t":61,"f":115,"v":2},{"t":62,"f":115,"v":2},{"t":63,"f":115,"v":5},{"t":64,"f":115,"v":3},{"t":65,"f":115,"v":5},{"t":68,"f":115,"v":6},
{"t":68,"f":116,"v":6},{"t":69,"f":116,"v":10},{"t":70,"f":116,"v":24},
{"t":66,"f":117,"v":7},{"t":68,"f":117,"v":25},{"t":69,"f":117,"v":10},{"t":70,"f":117,"v":12},
{"t":49,"f":118,"v":3},{"t":64,"f":118,"v":8},{"t":65,"f":118,"v":8},{"t":66,"f":118,"v":18},{"t":67,"f":118,"v":18},{"t":68,"f":118,"v":26},{"t":69,"f":118,"v":8},{"t":70,"f":118,"v":8},
{"t":68,"f":119,"v":4},{"t":70,"f":119,"v":12},
{"t":68,"f":120,"v":8},{"t":69,"f":120,"v":8},{"t":70,"f":120,"v":10},
{"t":52,"f":121,"v":3},{"t":61,"f":121,"v":12},{"t":62,"f":121,"v":6},{"t":63,"f":121,"v":6},{"t":64,"f":121,"v":3},{"t":65,"f":121,"v":3},{"t":66,"f":121,"v":15},{"t":67,"f":121,"v":5},{"t":68,"f":121,"v":3},{"t":69,"f":121,"v":7},{"t":70,"f":121,"v":10},
{"t":69,"f":122,"v":14},{"t":70,"f":122,"v":14},
{"t":62,"f":123,"v":4},{"t":64,"f":123,"v":3},{"t":65,"f":123,"v":3},{"t":68,"f":123,"v":16},{"t":69,"f":123,"v":8},{"t":70,"f":123,"v":8},
{"t":62,"f":124,"v":7},{"t":63,"f":124,"v":5},{"t":64,"f":124,"v":8},{"t":65,"f":124,"v":8},{"t":66,"f":124,"v":5},{"t":68,"f":124,"v":20},{"t":69,"f":124,"v":8},{"t":70,"f":124,"v":12},
{"t":68,"f":125,"v":3},{"t":69,"f":125,"v":6},{"t":70,"f":125,"v":3},
{"t":47,"f":126,"v":4},{"t":48,"f":126,"v":3},{"t":65,"f":126,"v":4},{"t":66,"f":126,"v":4},{"t":67,"f":126,"v":4},{"t":69,"f":126,"v":4},
{"t":47,"f":127,"v":2},{"t":52,"f":127,"v":2},{"t":62,"f":127,"v":1},{"t":65,"f":127,"v":5},{"t":66,"f":127,"v":5},{"t":67,"f":127,"v":5},{"t":68,"f":127,"v":8},{"t":69,"f":127,"v":22},{"t":70,"f":127,"v":22}
      ]},
      "mark": {"type": "rect", "width": 6, "height": 6, "opacity": 1, "strokeWidth": 0.2},
      "encoding": {
        "x": {"field": "t", "type": "quantitative", "title": "frame/s", "scale": {"domain": [-0.5, 70.5], "nice": false, "zero": false}, "axis": {"values": [0, 20, 40, 60], "titlePadding": 9}},
        "y": {"field": "f", "type": "quantitative", "title": "frequency/Hz", "scale": {"domain": [127.5, -0.5], "nice": false, "zero": false}, "axis": {"values": [0, 20, 40, 60, 80, 100, 120], "titlePadding": 12}},
        "color": {"field": "v", "type": "quantitative", "legend": null, "scale": {"scheme": "viridis", "domain": [-2.5, 77.5], "clamp": true}},
        "stroke": {"field": "v", "type": "quantitative", "legend": null, "scale": {"scheme": "viridis", "domain": [-2.5, 77.5], "clamp": true}}
      }
        },
        {
          "data": {"values": [{"x0": -0.5, "x1": 70.5, "y0": -0.5, "y1": 127.5}]},
          "mark": {"type": "rect", "fill": "transparent", "stroke": "black", "strokeWidth": 1.2},
          "encoding": {
            "x": {"field": "x0", "type": "quantitative", "title": "frame/s"},
            "x2": {"field": "x1"},
            "y": {"field": "y0", "type": "quantitative", "title": "frequency/Hz"},
            "y2": {"field": "y1"}
          }
        }
      ]
    },
    {
      "width": 36,
      "height": 729,
      "layer": [
        {
      "data": {"values": [
{"a":-2.5,"b":-2},{"a":-2,"b":-1.5},{"a":-1.5,"b":-1},{"a":-1,"b":-0.5},{"a":-0.5,"b":0},{"a":0,"b":0.5},{"a":0.5,"b":1},{"a":1,"b":1.5},{"a":1.5,"b":2},{"a":2,"b":2.5},{"a":2.5,"b":3},{"a":3,"b":3.5},{"a":3.5,"b":4},{"a":4,"b":4.5},{"a":4.5,"b":5},{"a":5,"b":5.5},{"a":5.5,"b":6},{"a":6,"b":6.5},{"a":6.5,"b":7},{"a":7,"b":7.5},{"a":7.5,"b":8},{"a":8,"b":8.5},{"a":8.5,"b":9},{"a":9,"b":9.5},{"a":9.5,"b":10},{"a":10,"b":10.5},{"a":10.5,"b":11},{"a":11,"b":11.5},{"a":11.5,"b":12},{"a":12,"b":12.5},{"a":12.5,"b":13},{"a":13,"b":13.5},{"a":13.5,"b":14},{"a":14,"b":14.5},{"a":14.5,"b":15},{"a":15,"b":15.5},{"a":15.5,"b":16},{"a":16,"b":16.5},{"a":16.5,"b":17},{"a":17,"b":17.5},{"a":17.5,"b":18},{"a":18,"b":18.5},{"a":18.5,"b":19},{"a":19,"b":19.5},{"a":19.5,"b":20},{"a":20,"b":20.5},{"a":20.5,"b":21},{"a":21,"b":21.5},{"a":21.5,"b":22},{"a":22,"b":22.5},{"a":22.5,"b":23},{"a":23,"b":23.5},{"a":23.5,"b":24},{"a":24,"b":24.5},{"a":24.5,"b":25},{"a":25,"b":25.5},{"a":25.5,"b":26},{"a":26,"b":26.5},{"a":26.5,"b":27},{"a":27,"b":27.5},{"a":27.5,"b":28},{"a":28,"b":28.5},{"a":28.5,"b":29},{"a":29,"b":29.5},{"a":29.5,"b":30},{"a":30,"b":30.5},{"a":30.5,"b":31},{"a":31,"b":31.5},{"a":31.5,"b":32},{"a":32,"b":32.5},{"a":32.5,"b":33},{"a":33,"b":33.5},{"a":33.5,"b":34},{"a":34,"b":34.5},{"a":34.5,"b":35},{"a":35,"b":35.5},{"a":35.5,"b":36},{"a":36,"b":36.5},{"a":36.5,"b":37},{"a":37,"b":37.5},{"a":37.5,"b":38},{"a":38,"b":38.5},{"a":38.5,"b":39},{"a":39,"b":39.5},{"a":39.5,"b":40},{"a":40,"b":40.5},{"a":40.5,"b":41},{"a":41,"b":41.5},{"a":41.5,"b":42},{"a":42,"b":42.5},{"a":42.5,"b":43},{"a":43,"b":43.5},{"a":43.5,"b":44},{"a":44,"b":44.5},{"a":44.5,"b":45},{"a":45,"b":45.5},{"a":45.5,"b":46},{"a":46,"b":46.5},{"a":46.5,"b":47},{"a":47,"b":47.5},{"a":47.5,"b":48},{"a":48,"b":48.5},{"a":48.5,"b":49},{"a":49,"b":49.5},{"a":49.5,"b":50},{"a":50,"b":50.5},{"a":50.5,"b":51},{"a":51,"b":51.5},{"a":51.5,"b":52},{"a":52,"b":52.5},{"a":52.5,"b":53},{"a":53,"b":53.5},{"a":53.5,"b":54},{"a":54,"b":54.5},{"a":54.5,"b":55},{"a":55,"b":55.5},{"a":55.5,"b":56},{"a":56,"b":56.5},{"a":56.5,"b":57},{"a":57,"b":57.5},{"a":57.5,"b":58},{"a":58,"b":58.5},{"a":58.5,"b":59},{"a":59,"b":59.5},{"a":59.5,"b":60},{"a":60,"b":60.5},{"a":60.5,"b":61},{"a":61,"b":61.5},{"a":61.5,"b":62},{"a":62,"b":62.5},{"a":62.5,"b":63},{"a":63,"b":63.5},{"a":63.5,"b":64},{"a":64,"b":64.5},{"a":64.5,"b":65},{"a":65,"b":65.5},{"a":65.5,"b":66},{"a":66,"b":66.5},{"a":66.5,"b":67},{"a":67,"b":67.5},{"a":67.5,"b":68},{"a":68,"b":68.5},{"a":68.5,"b":69},{"a":69,"b":69.5},{"a":69.5,"b":70},{"a":70,"b":70.5},{"a":70.5,"b":71},{"a":71,"b":71.5},{"a":71.5,"b":72},{"a":72,"b":72.5},{"a":72.5,"b":73},{"a":73,"b":73.5},{"a":73.5,"b":74},{"a":74,"b":74.5},{"a":74.5,"b":75},{"a":75,"b":75.5},{"a":75.5,"b":76},{"a":76,"b":76.5},{"a":76.5,"b":77},{"a":77,"b":77.5}
      ]},
      "mark": {"type": "rect", "opacity": 1, "strokeWidth": 0.8},
      "encoding": {
        "y": {"field": "a", "type": "quantitative", "title": null, "scale": {"domain": [-2.5, 77.5], "nice": false, "zero": false}, "axis": {"orient": "right", "values": [0, 10, 20, 30, 40, 50, 60, 70]}},
        "y2": {"field": "b"},
        "color": {"field": "a", "type": "quantitative", "legend": null, "scale": {"scheme": "viridis", "domain": [-2.5, 77.5]}},
        "stroke": {"field": "a", "type": "quantitative", "legend": null, "scale": {"scheme": "viridis", "domain": [-2.5, 77.5]}}
      }
        },
        {
          "data": {"values": [{"y0": -2.5, "y1": 77.5}]},
          "mark": {"type": "rect", "fill": "transparent", "stroke": "black", "strokeWidth": 1.2},
          "encoding": {
            "y": {"field": "y0", "type": "quantitative", "title": null},
            "y2": {"field": "y1"}
          }
        }
      ]
    }
  ]
}
